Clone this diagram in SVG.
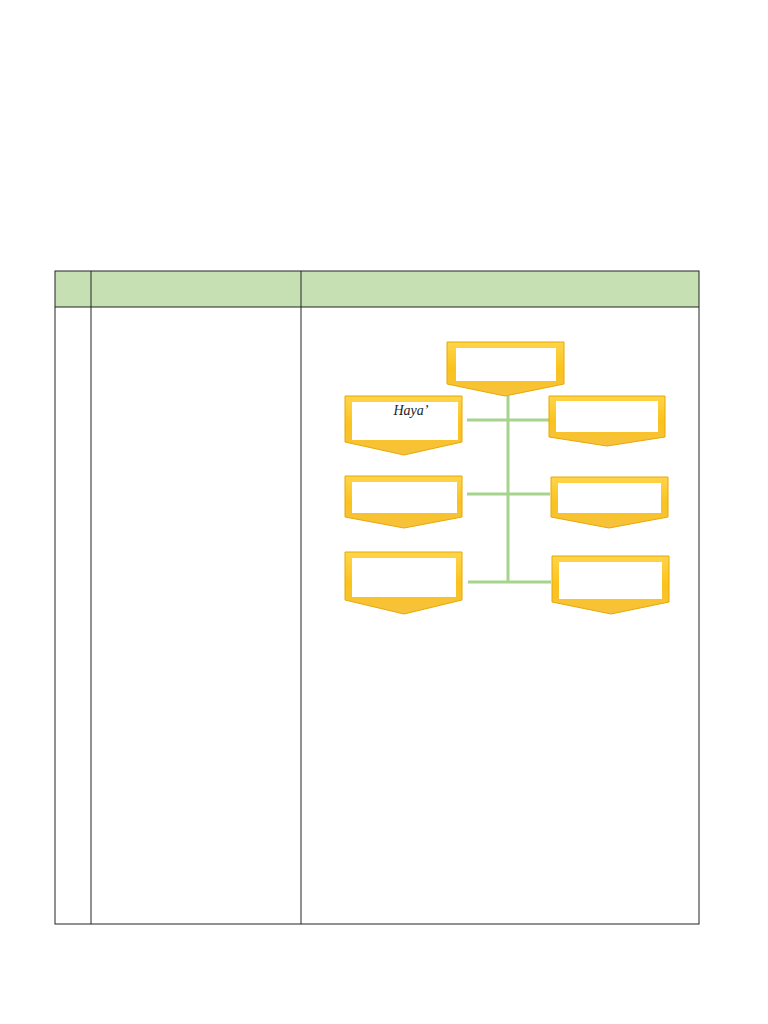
<svg xmlns="http://www.w3.org/2000/svg" width="768" height="1024" viewBox="0 0 768 1024">
<style>
.cell{fill:none;stroke:#222;stroke-width:1}
.box{fill:url(#gold);stroke:#e8a800;stroke-width:1}
.in{fill:#fff}
.con{stroke:#a6d48c;stroke-width:3;fill:none}
.t{font-family:"Liberation Serif",serif;font-style:italic;font-size:14px;fill:#222}
</style>
<defs>
<linearGradient id="gold" x1="0" y1="0" x2="0" y2="1">
<stop offset="0" stop-color="#ffd54a"/><stop offset="0.5" stop-color="#fbc21c"/><stop offset="1" stop-color="#f6c240"/>
</linearGradient>
</defs>
<rect width="768" height="1024" fill="#fff"/>
<g id="table">
<rect x="55" y="271" width="644" height="36" fill="#c6e0b4"/>
<rect class="cell" x="55" y="271" width="644" height="653"/>
<line class="cell" x1="55" y1="307" x2="699" y2="307"/>
<line class="cell" x1="91" y1="271" x2="91" y2="924"/>
<line class="cell" x1="301" y1="271" x2="301" y2="924"/>
</g>
<g id="connectors">
<line class="con" x1="508" y1="396" x2="508" y2="582"/>
<line class="con" x1="467" y1="420" x2="549" y2="420"/>
<line class="con" x1="467" y1="494" x2="550" y2="494"/>
<line class="con" x1="468" y1="582" x2="551" y2="582"/>
</g>
<g id="top"><path class="box" d="M447,342H564V384L505,396L447,384Z"/><rect class="in" x="456" y="348" width="100" height="33"/></g>
<g id="haya"><path class="box" d="M345,396H462V442L404,455L345,442Z"/><rect class="in" x="352" y="402" width="106" height="38"/><text class="t" x="411" y="415" text-anchor="middle">Haya’</text></g>
<g id="r1"><path class="box" d="M549,396H665V437L607,446L549,437Z"/><rect class="in" x="556" y="401" width="102" height="31"/></g>
<g id="l2"><path class="box" d="M345,476H462V517L404,528L345,517Z"/><rect class="in" x="352" y="482" width="105" height="31"/></g>
<g id="r2"><path class="box" d="M551,477H668V517L609,528L551,517Z"/><rect class="in" x="558" y="483" width="103" height="30"/></g>
<g id="l3"><path class="box" d="M345,552H462V600L404,614L345,600Z"/><rect class="in" x="352" y="558" width="104" height="39"/></g>
<g id="r3"><path class="box" d="M552,556H669V602L611,614L552,602Z"/><rect class="in" x="559" y="562" width="103" height="37"/></g>
</svg>
